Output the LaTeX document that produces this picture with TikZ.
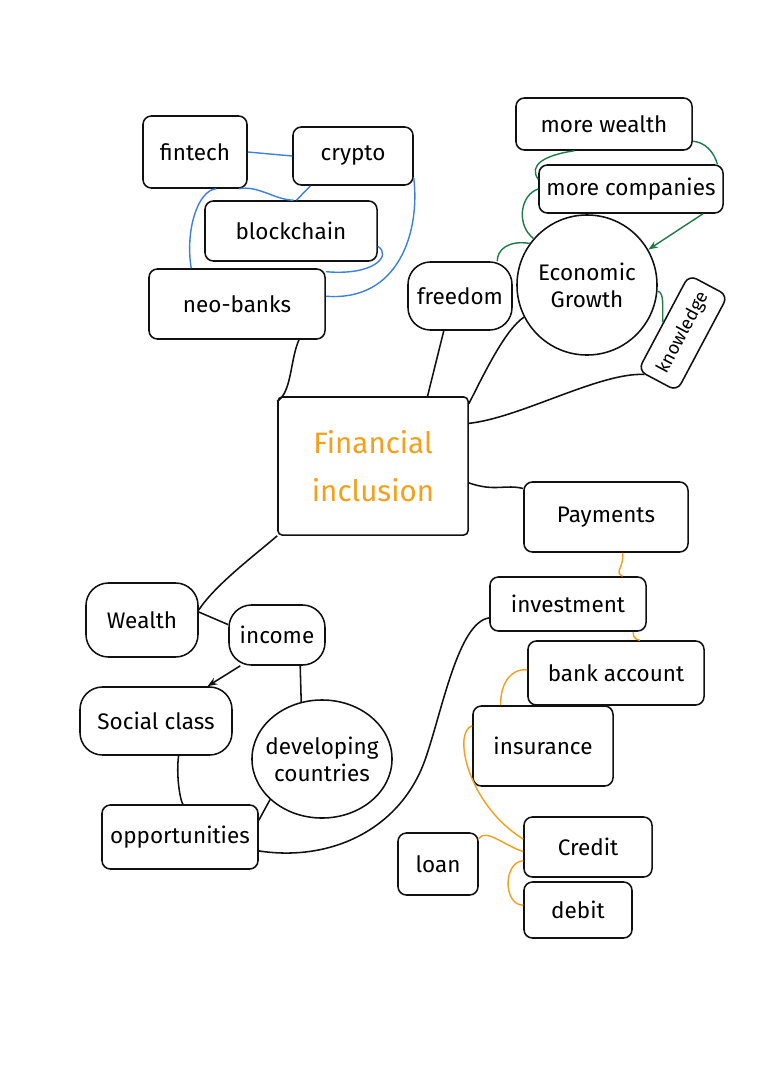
\documentclass[tikz,border=0pt]{standalone}
\usepackage{fontspec}
\setmainfont{Fira Sans}
\usepackage{xcolor}
\definecolor{ink}{HTML}{111111}
\definecolor{skyblue}{HTML}{3D80E0}
\definecolor{forest}{HTML}{1E7A48}
\definecolor{amber}{HTML}{F5A01A}
\usepackage{tikz}
\usetikzlibrary{arrows.meta,shapes.geometric}
\newcommand{\handfont}{\fontsize{16}{19}\selectfont}
\tikzset{
  >={Stealth[length=2.4mm,width=1.8mm]},
  box/.style      ={draw=ink,line width=1.1pt,rounded corners=6pt,
                    font=\handfont,align=center,inner sep=2pt},
  blob/.style     ={box,rounded corners=16pt},
  oval/.style     ={draw=ink,line width=1.1pt,ellipse,font=\handfont,
                    align=center,inner sep=0pt},
  link/.style     ={draw=ink,line width=1.1pt},
  bluelink/.style ={draw=skyblue,line width=1pt},
  greenlink/.style={draw=forest,line width=1pt},
  amberlink/.style={draw=amber,line width=1pt},
}

\begin{document}
\begin{tikzpicture}[x=0.025cm,y=-0.025cm]
\fill[white] (0,0) rectangle (776,1072);

% technology cluster
\node[box,minimum width=26mm,minimum height=18mm] (fintech) at (195,152) {fintech};
\node[box,minimum width=30mm,minimum height=14.5mm] (crypto) at (353,156) {crypto};
\node[box,minimum width=43mm,minimum height=15mm] (chain) at (291,231) {blockchain};
\node[box,minimum width=44mm,minimum height=17.5mm] (neo) at (237,304) {neo-banks};

% growth cluster
\node[box,minimum width=44mm,minimum height=13mm] (mwealth) at (604,124) {more wealth};
\node[box,minimum width=46mm,minimum height=12mm] (mcomp) at (631,189) {more companies};
\node[oval,circle,minimum size=35mm] (growth) at (587,285) {Economic\\ Growth};
\node[blob,minimum width=26mm,minimum height=17mm] (free) at (460,296) {freedom};
\node[box,rotate=62,minimum width=27mm,minimum height=11mm,
      font=\fontsize{13}{15}\selectfont] (know) at (683,333) {knowledge};

% centre
\node[box,minimum width=47.5mm,minimum height=34.5mm,rounded corners=3pt,
      text=amber,font=\fontsize{21}{34}\selectfont] (fi) at (373,466) {Financial\\ inclusion};

% services
\node[box,minimum width=41mm,minimum height=17.5mm] (pay) at (606,517) {Payments};
\node[box,minimum width=39mm,minimum height=13.5mm] (invest) at (568,604) {investment};
\node[box,minimum width=44mm,minimum height=16mm] (bank) at (616,673) {bank account};
\node[box,minimum width=35mm,minimum height=20mm] (insure) at (543,746) {insurance};
\node[box,minimum width=32mm,minimum height=15mm] (credit) at (588,847) {Credit};
\node[box,minimum width=20mm,minimum height=15.5mm] (loan) at (438,864) {loan};
\node[box,minimum width=27mm,minimum height=14mm] (debit) at (578,910) {debit};

% social cluster
\node[blob,minimum width=28mm,minimum height=18.5mm] (wealth) at (142,620) {Wealth};
\node[blob,minimum width=24mm,minimum height=15mm] (income) at (277,635) {income};
\node[blob,minimum width=38mm,minimum height=17mm] (social) at (156,721) {Social class};
\node[oval,minimum width=35mm,minimum height=29.5mm,inner xsep=-4mm] (develop) at (322,759) {developing\\ countries};
\node[box,minimum width=39mm,minimum height=16mm] (opport) at (180,837) {opportunities};

% black links
\draw[link] (neo.-30) .. controls (290,360) and (292,392) .. (fi.146);
\draw[link] (free.-115) -- (fi.52);
\draw[link] (growth.207) .. controls (505,330) and (485,372) .. (fi.33);
\draw[link] (know.165) .. controls (600,372) and (520,418) .. (fi.24);
\draw[link] (fi.-10) .. controls (495,492) and (505,484) .. (pay.161);
\draw[link] (fi.south west) .. controls (255,555) and (215,585) .. (wealth.10);
\draw[link] (wealth.8) -- (income.168);
\draw[link,->] (income.220) -- (social.34);
\draw[link] (income.-53) -- (develop.110);
\draw[link] (social.-57) .. controls (176,775) and (180,800) .. (opport.85);
\draw[link] (develop.218) -- (opport.12);
\draw[link] (opport.-10) .. controls (330,862) and (400,830) .. (425,760)
            .. controls (442,712) and (458,622) .. (invest.190);

% blue links
\draw[bluelink] (fintech.east) -- (crypto.west);
\draw[bluelink] (fintech.-40) .. controls (258,185) and (275,200) .. (chain.85);
\draw[bluelink] (crypto.-145) -- (chain.80);
\draw[bluelink] (fintech.-60) .. controls (198,190) and (185,230) .. (neo.142);
\draw[bluelink] (crypto.-20) .. controls (420,230) and (400,302) .. (neo.5);
\draw[bluelink] (chain.-10) .. controls (392,255) and (375,276) .. (neo.20);

% green links
\draw[greenlink] (mwealth.-138) .. controls (545,155) and (528,165) .. (mcomp.174);
\draw[greenlink] (mwealth.-11) .. controls (705,142) and (714,152) .. (mcomp.16);
\draw[greenlink] (mcomp.180) .. controls (520,195) and (516,225) .. (growth.139);
\draw[greenlink,->] (mcomp.-19) -- (growth.30);
\draw[greenlink] (growth.144) .. controls (508,240) and (497,250) .. (free.43);
\draw[greenlink] (growth.-5) .. controls (665,292) and (662,310) .. (know.north);

% orange links
\draw[amberlink] (pay.-65) .. controls (624,568) and (614,572) .. (invest.27);
\draw[amberlink] (invest.-23) .. controls (632,640) and (640,640) .. (bank.54);
\draw[amberlink] (bank.178) .. controls (510,668) and (500,685) .. (insure.136);
\draw[amberlink] (insure.164) .. controls (452,732) and (468,805) .. (credit.173);
\draw[amberlink] (credit.184) .. controls (505,846) and (486,828) .. (loan.32);
\draw[amberlink] (credit.192) .. controls (503,862) and (503,905) .. (debit.175);
\end{tikzpicture}
\end{document}
